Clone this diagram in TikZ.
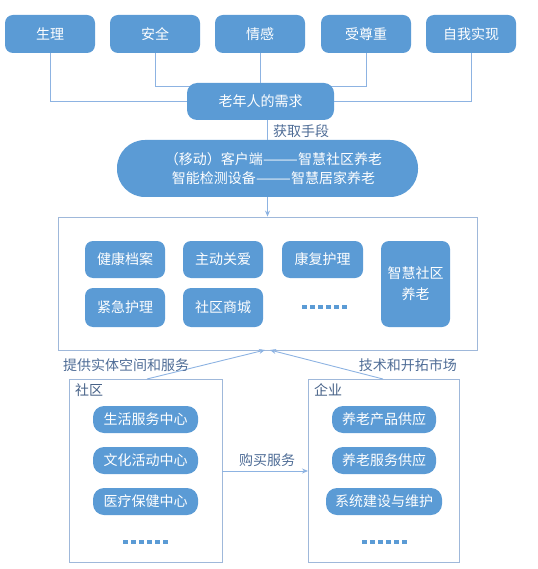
\documentclass[tikz,border=0pt]{standalone}
\usepackage{fontspec}
\usepackage{graphicx}
\setmainfont{Noto Sans CJK SC}
\usetikzlibrary{arrows.meta}
\definecolor{boxblue}{HTML}{5B9BD5}
\definecolor{linkblue}{HTML}{8DB3E2}
\definecolor{framecol}{HTML}{9FB8DA}
\definecolor{labcol}{HTML}{4E6C96}
\begin{document}
\begin{tikzpicture}[x=1pt,y=-1pt,
  bluebox/.style={draw=none,fill=boxblue,text=white,rounded corners=8pt,inner sep=0pt,font=\fontsize{14}{16}\selectfont},
  pill/.style={bluebox,rounded corners=11pt,minimum height=27pt},
  frame/.style={draw=framecol,line width=0.9pt},
  link/.style={draw=linkblue,line width=0.9pt},
  arr/.style={link,-{Stealth[length=6pt,width=5pt]}},
  lab/.style={text=labcol,font=\fontsize{14}{16}\selectfont,inner sep=0pt},
  dotsrow/.style={text=boxblue,inner sep=0pt}
]
\useasboundingbox (0,0) rectangle (537,569);
\newcommand{\sqdots}{\rule{5pt}{4pt}\hspace{3pt}\rule{5pt}{4pt}\hspace{3pt}\rule{5pt}{4pt}\hspace{3pt}\rule{5pt}{4pt}\hspace{3pt}\rule{5pt}{4pt}\hspace{3pt}\rule{5pt}{4pt}}
\newcommand{\longdash}{\scalebox{1.5}[1]{——}}

% top needs
\node[bluebox,minimum width=90pt,minimum height=38pt] (n1) at (50,34) {生理};
\node[bluebox,minimum width=90pt,minimum height=38pt] (n2) at (155,34) {安全};
\node[bluebox,minimum width=90pt,minimum height=38pt] (n3) at (260,34) {情感};
\node[bluebox,minimum width=90pt,minimum height=38pt] (n4) at (366,34) {受尊重};
\node[bluebox,minimum width=90pt,minimum height=38pt] (n5) at (471,34) {自我实现};

\coordinate (c2) at (155,86);
\coordinate (c4) at (366,86);
\draw[link] (n2.south) -- (c2) -- (c4) -- (n4.south);

\node[bluebox,rounded corners=10pt,minimum width=147pt,minimum height=37pt] (need) at (260.5,101.5) {老年人的需求};
\draw[link] (n1.south) |- (need.west);
\draw[link] (n5.south) |- (need.east);
\draw[link] (n3.south) -- (n3.south |- need.north);

% oval
\node[bluebox,rounded corners=28pt,minimum width=301pt,minimum height=57pt,align=center,font=\fontsize{14}{19}\selectfont] (means) at (267.5,168.5) {\hspace*{12pt}（移动）客户端\longdash 智慧社区养老\\\hspace*{12pt}智能检测设备\longdash 智慧居家养老};
\draw[link] (need.south -| 267.5,0) -- (means.north);
\node[lab,anchor=west] (getlab) at (273,131.5) {获取手段};

% big frame
\node[frame,minimum width=419pt,minimum height=133pt,inner sep=0pt] (big) at (267.5,283.5) {};
\draw[arr] (means.south) -- (big.north);

\node[bluebox,minimum width=80pt,minimum height=37pt] (s1) at (125,259.5) {健康档案};
\node[bluebox,minimum width=80pt,minimum height=37pt] (s2) at (223,259.5) {主动关爱};
\node[bluebox,minimum width=81pt,minimum height=37pt] (s3) at (322.5,259.5) {康复护理};
\node[bluebox,minimum width=80pt,minimum height=39pt] (s4) at (125,307.5) {紧急护理};
\node[bluebox,minimum width=80pt,minimum height=39pt] (s5) at (223,307.5) {社区商城};
\node[dotsrow] (sdots) at (324.5,307) {\sqdots};
\node[bluebox,minimum width=69pt,minimum height=86pt,align=center,font=\fontsize{14}{21}\selectfont] (s6) at (415.5,284) {智慧社区\\养老};

% community
\node[frame,minimum width=153pt,minimum height=183pt,inner sep=0pt] (comm) at (145.5,470.5) {};
\node[lab,text=labcol!90!black,anchor=north west] (commlab) at (75,383) {社区};
\node[pill,minimum width=105pt] (c1) at (145.5,419.5) {生活服务中心};
\node[pill,minimum width=105pt] (c2b) at (145.5,460.5) {文化活动中心};
\node[pill,minimum width=105pt] (c3) at (145.5,501.5) {医疗保健中心};
\node[dotsrow] (cdots) at (145.5,542) {\sqdots};

% enterprise
\node[frame,minimum width=151pt,minimum height=183pt,inner sep=0pt] (ent) at (383.5,470.5) {};
\node[lab,text=labcol!90!black,anchor=north west] (entlab) at (314,383) {企业};
\node[pill,minimum width=104pt] (e1) at (384,419.5) {养老产品供应};
\node[pill,minimum width=104pt] (e2) at (384,460.5) {养老服务供应};
\node[pill,minimum width=116pt] (e3) at (384,501.5) {系统建设与维护};
\node[dotsrow] (edots) at (384.5,542) {\sqdots};

% arrows between
\coordinate (buyS) at (222,471);
\coordinate (buyE) at (308,471);
\draw[arr] (buyS) -- (buyE);
\node[lab] (buylab) at (267,460) {购买服务};

\coordinate (commtop) at (147,379);
\coordinate (enttop) at (383,379);
\coordinate (bigin1) at (265,350);
\coordinate (bigin2) at (270,350);
\draw[arr] (commtop) -- (bigin1);
\draw[arr] (enttop) -- (bigin2);
\node[lab,anchor=west] (provlab) at (63,365) {提供实体空间和服务};
\node[lab,anchor=east] (techlab) at (457,365) {技术和开拓市场};
\end{tikzpicture}
\end{document}
